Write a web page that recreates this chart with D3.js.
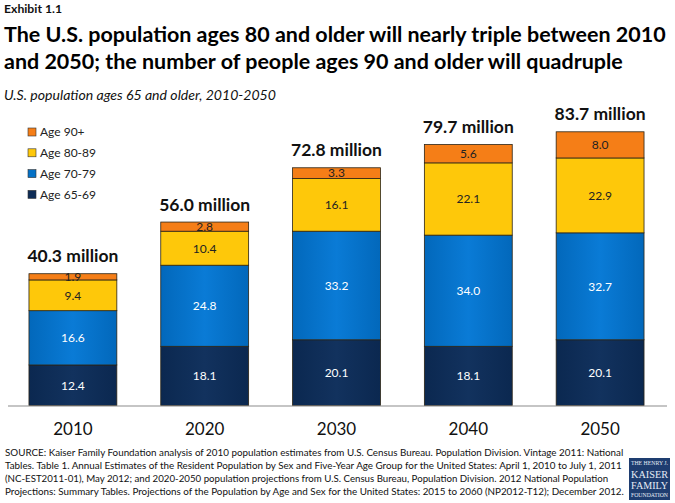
<!DOCTYPE html>
<html>
<head>
<meta charset="utf-8">
<script src="https://cdn.jsdelivr.net/npm/d3@7"></script>
<style>
  body { margin: 0; background: #fff; }
  svg { display: block; font-family: Lato, "Open Sans", sans-serif; }
</style>
</head>
<body>
<div id="chart"></div>
<script>
// data (millions of people)
var years = ["2010", "2020", "2030", "2040", "2050"];
var ageGroups = ["Age 65-69", "Age 70-79", "Age 80-89", "Age 90+"];
var age6569 = [12.4, 18.1, 20.1, 18.1, 20.1];
var age7079 = [16.6, 24.8, 33.2, 34.0, 32.7];
var age8089 = [9.4, 10.4, 16.1, 22.1, 22.9];
var age90plus = [1.9, 2.8, 3.3, 5.6, 8.0];
var totals = [40.3, 56.0, 72.8, 79.7, 83.7];
var sourceLines = [
  "SOURCE: Kaiser Family Foundation analysis of 2010 population estimates from U.S. Census Bureau. Population Division. Vintage 2011: National",
  "Tables. Table 1. Annual Estimates of the Resident Population by Sex and Five-Year Age Group for the United States: April 1, 2010 to July 1, 2011",
  "(NC-EST2011-01), May 2012; and 2020-2050 population projections from U.S. Census Bureau, Population Division. 2012 National Population",
  "Projections: Summary Tables. Projections of the Population by Age and Sex for the United States: 2015 to 2060 (NP2012-T12); December 2012."
];

var width = 675, height = 503;
var colors = ["#0e2c55", "#0471c6", "#fec80a", "#f57e17"];
var textColors = ["#fff", "#fff", "#222", "#222"];

var svg = d3.select("#chart").append("svg")
  .attr("width", width)
  .attr("height", height);

// shrink/grow a text node so it spans a given width (Calibri isn't available)
function fitText(sel, target) {
  sel.each(function () {
    var fs = parseFloat(d3.select(this).attr("font-size"));
    var w = this.getComputedTextLength();
    if (w > 0) d3.select(this).attr("font-size", (fs * target / w).toFixed(2));
  });
  return sel;
}

// gradients for the blue segments (slightly lighter in the middle)
var defs = svg.append("defs");
function addGrad(id, edge, mid) {
  var g = defs.append("linearGradient").attr("id", id)
    .attr("x1", "0%").attr("x2", "100%").attr("y1", "0%").attr("y2", "0%");
  g.append("stop").attr("offset", "0%").attr("stop-color", edge);
  g.append("stop").attr("offset", "50%").attr("stop-color", mid);
  g.append("stop").attr("offset", "100%").attr("stop-color", edge);
}
addGrad("g0", "#0b2850", "#12325e");
addGrad("g1", "#0268bb", "#0a7bd6");
var fills = ["url(#g0)", "url(#g1)", colors[2], colors[3]];

//Header
svg.append("text")
  .attr("x", 4).attr("y", 12.5)
  .attr("font-size", 11).attr("font-weight", 700).attr("fill", "#111")
  .text("Exhibit 1.1")
  .call(fitText, 58);

var t1 = svg.append("text")
  .attr("x", 4).attr("y", 42)
  .attr("font-size", 24).attr("font-weight", 700).attr("fill", "#000")
  .text("The U.S. population ages 80 and older will nearly triple between 2010")
  .call(fitText, 662);

svg.append("text")
  .attr("x", 4).attr("y", 69)
  .attr("font-size", t1.attr("font-size")).attr("font-weight", 700).attr("fill", "#000")
  .text("and 2050; the number of people ages 90 and older will quadruple");

svg.append("text")
  .attr("x", 4).attr("y", 100)
  .attr("font-size", 14).attr("font-style", "italic").attr("fill", "#111")
  .text("U.S. population ages 65 and older, 2010-2050")
  .call(fitText, 272);

// scales
var x = d3.scaleBand()
  .domain(years)
  .range([7, 666])
  .paddingInner(1 / 3)
  .paddingOuter(1 / 6);

var y = d3.scaleLinear()
  .domain([0, 100])
  .range([405.5, 405.5 - 327]);

var rows = years.map(function (yr, i) {
  return { year: yr, "Age 65-69": age6569[i], "Age 70-79": age7079[i], "Age 80-89": age8089[i], "Age 90+": age90plus[i], total: totals[i] };
});

var series = d3.stack().keys(ageGroups)(rows);

var chart = svg.append("g").attr("class", "chart");

var groups = chart.selectAll("g.series")
  .data(series)
  .join("g")
  .attr("class", "series");

groups.selectAll("rect")
  .data(function (s, si) { return s.map(function (d) { return { si: si, d: d }; }); })
  .join("rect")
  .attr("x", function (o) { return x(o.d.data.year); })
  .attr("width", x.bandwidth())
  .attr("y", function (o) { return y(o.d[1]); })
  .attr("height", function (o) { return y(o.d[0]) - y(o.d[1]); })
  .attr("fill", function (o) { return fills[o.si]; })
  .attr("stroke", "#2b2415")
  .attr("stroke-width", 0.8);

groups.selectAll("text")
  .data(function (s, si) { return s.map(function (d) { return { si: si, d: d }; }); })
  .join("text")
  .attr("x", function (o) { return x(o.d.data.year) + x.bandwidth() / 2; })
  .attr("y", function (o) { return (y(o.d[0]) + y(o.d[1])) / 2; })
  .attr("dy", "0.36em")
  .attr("text-anchor", "middle")
  .attr("font-size", 12)
  .attr("fill", function (o) { return textColors[o.si]; })
  .text(function (o) { return (o.d[1] - o.d[0]).toFixed(1); });

// totals above bars
chart.selectAll("text.total")
  .data(rows)
  .join("text")
  .attr("class", "total")
  .attr("x", function (d) { return x(d.year) + x.bandwidth() / 2; })
  .attr("y", function (d) { return y(d.total) - 11.5; })
  .attr("text-anchor", "middle")
  .attr("font-size", 17.5)
  .attr("font-weight", 700)
  .attr("fill", "#111")
  .text(function (d) { return d.total.toFixed(1) + " million"; })
  .call(fitText, 91);

// x axis
var xAxis = chart.append("g")
  .attr("transform", "translate(0," + y(0) + ")")
  .call(d3.axisBottom(x).tickSize(0).tickPadding(17));
xAxis.select(".domain").attr("stroke", "#8c8c8c").attr("stroke-width", 1.2)
  .attr("d", "M8,0.5H667");
xAxis.selectAll(".tick text")
  .attr("font-family", "Lato, sans-serif")
  .attr("font-size", 17)
  .attr("fill", "#111");

// legend
var legend = svg.append("g").attr("transform", "translate(28,128)");
var legendItems = legend.selectAll("g")
  .data(ageGroups.slice().reverse())
  .join("g")
  .attr("transform", function (d, i) { return "translate(0," + (i * 20.8) + ")"; });
legendItems.append("rect")
  .attr("width", 8).attr("height", 8)
  .attr("fill", function (d) { return colors[ageGroups.indexOf(d)]; })
  .attr("stroke", "#333").attr("stroke-width", 0.6);
legendItems.append("text")
  .attr("x", 12).attr("y", 4).attr("dy", "0.36em")
  .attr("font-size", 12).attr("fill", "#222")
  .text(function (d) { return d; });

// source note
var srcWidths = [619, 617, 604, 619];
svg.append("g").selectAll("text")
  .data(sourceLines)
  .join("text")
  .attr("x", 5)
  .attr("y", function (d, i) { return 455.5 + i * 13; })
  .attr("font-size", 10.5)
  .attr("fill", "#111")
  .text(function (d) { return d; })
  .each(function (d, i) { fitText(d3.select(this), srcWidths[i]); });

// KFF logo block
var logo = svg.append("g").attr("transform", "translate(629,458)");
logo.append("rect").attr("width", 41).attr("height", 42).attr("fill", "#1e3d70");
var logoText = [
  { t: "THE HENRY J.", y: 7, s: 4.2 },
  { t: "KAISER", y: 20, s: 11 },
  { t: "FAMILY", y: 31, s: 10 },
  { t: "FOUNDATION", y: 38.5, s: 4 }
];
logo.selectAll("text")
  .data(logoText)
  .join("text")
  .attr("x", 20.5)
  .attr("y", function (d) { return d.y; })
  .attr("text-anchor", "middle")
  .attr("font-family", "'Liberation Serif', serif")
  .attr("font-size", function (d) { return d.s; })
  .attr("fill", "#e6ecf5")
  .text(function (d) { return d.t; })
  .each(function (d) { fitText(d3.select(this), 37); });
</script>
</body>
</html>
